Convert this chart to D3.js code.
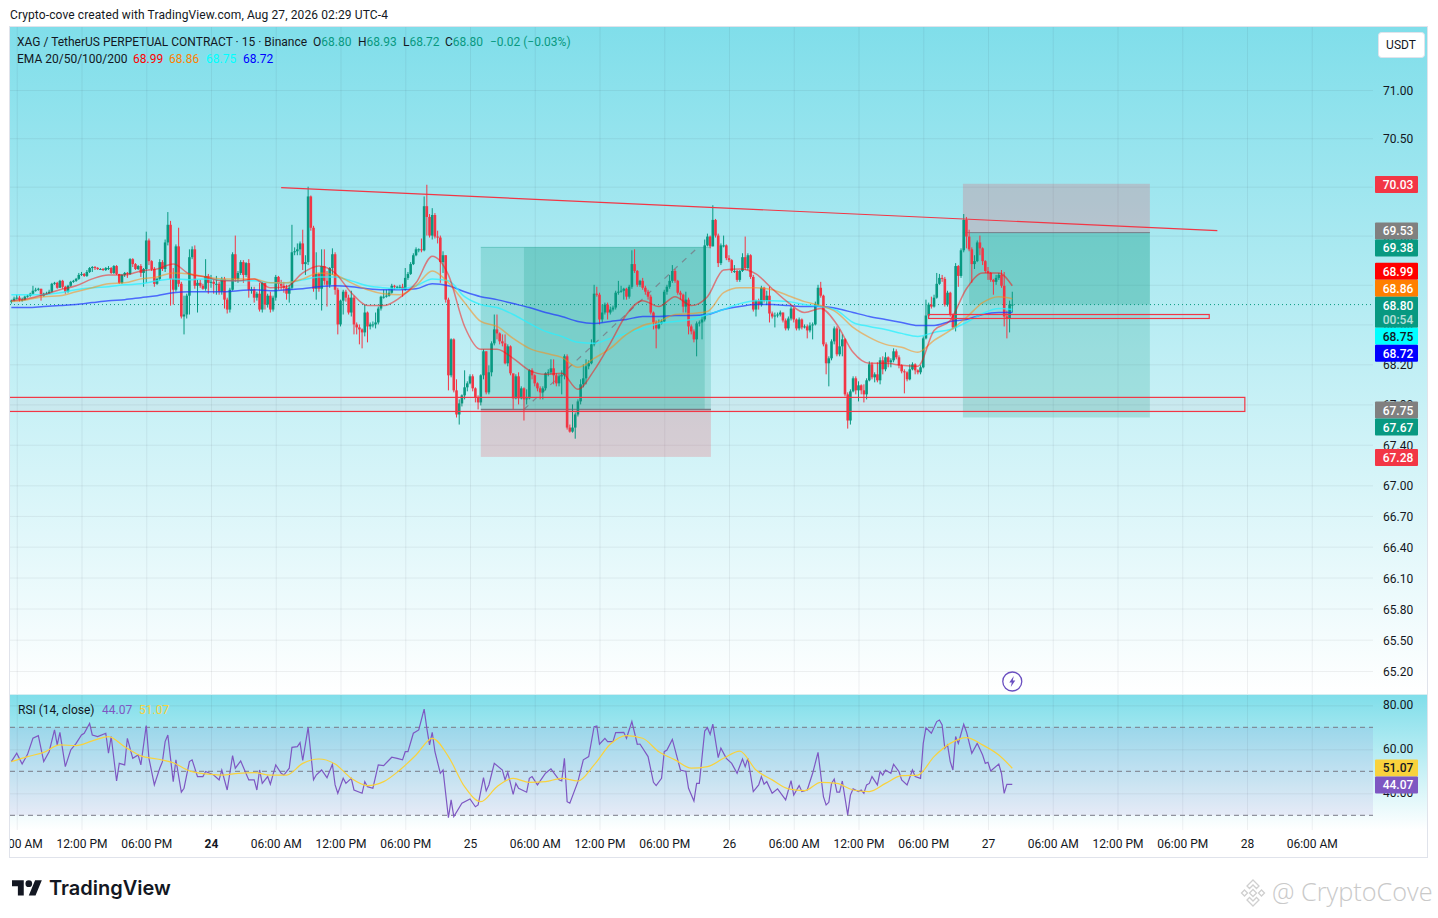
<!DOCTYPE html>
<html lang="en">
<head>
<meta charset="UTF-8">
<title>XAG / TetherUS 15</title>
<style>
  html, body { margin: 0; padding: 0; background: #fff; }
  svg { display: block; }
  text { font-family: Roboto, sans-serif; font-size: 12px; fill: #131722; }
  .domain { display: none; }
</style>
</head>
<body>
<svg id="svg" width="1438" height="918"></svg>
<script src="https://d3js.org/d3.v7.min.js"></script>
<script>
// 15 minute bars, one per index, first open is 68.83 and every other open is the previous close
const closes = [
  68.84,68.86,68.87,68.85,68.85,68.88,68.89,68.91,68.94,68.95,
  68.96,68.89,68.91,68.91,68.93,69.01,69.02,68.97,69.04,68.98,
  68.93,68.99,69.03,69.04,69.06,69.10,69.11,69.09,69.13,69.17,
  69.18,69.17,69.16,69.16,69.15,69.17,69.17,69.12,69.19,69.11,
  69.02,69.10,69.12,69.11,69.26,69.21,69.16,69.19,69.12,69.16,
  69.45,69.24,69.16,69.01,69.06,69.23,69.16,69.43,69.61,69.06,
  68.95,69.39,69.01,68.68,68.70,68.89,69.28,69.36,68.99,69.02,
  68.99,68.96,69.09,69.02,69.03,69.01,69.01,68.93,69.06,68.85,
  68.75,68.95,69.31,69.06,69.12,69.23,69.10,69.22,68.95,68.95,
  68.87,68.91,68.75,69.02,68.80,68.89,68.75,68.87,69.08,69.01,
  68.99,68.97,68.91,68.97,69.33,69.34,69.36,69.42,69.21,69.23,
  69.90,69.58,68.96,69.11,68.96,69.19,69.04,69.00,69.17,69.31,
  68.95,68.60,68.84,68.93,68.87,68.72,68.87,68.60,68.57,68.55,
  68.52,68.72,68.58,68.60,68.60,68.62,68.76,68.88,68.88,68.89,
  68.92,68.99,68.98,68.98,68.98,68.95,69.07,69.11,69.21,69.30,
  69.36,69.36,69.35,69.80,69.69,69.50,69.71,69.49,69.48,69.23,
  69.30,68.85,68.09,68.45,67.94,67.70,67.81,67.89,67.97,68.01,
  68.08,67.96,67.87,67.82,68.09,68.33,67.92,68.12,68.41,68.55,
  68.51,68.43,68.41,68.21,68.38,68.11,67.86,68.08,67.86,67.96,
  67.85,67.86,68.14,68.09,68.01,67.96,67.92,67.96,68.11,68.12,
  68.16,68.09,68.01,68.08,68.09,68.28,67.57,67.53,67.57,67.70,
  67.83,68.00,68.06,68.18,68.21,68.40,68.91,68.90,68.65,68.72,
  68.80,68.72,68.75,68.77,68.92,68.93,68.94,68.96,68.88,68.98,
  69.21,69.14,69.00,69.04,68.97,68.93,68.88,68.72,68.62,68.56,
  68.61,68.63,68.93,68.98,69.04,69.14,69.04,68.92,68.90,68.78,
  68.85,68.58,68.53,68.45,68.61,68.62,68.65,69.40,69.49,69.39,
  69.66,69.50,69.22,69.40,69.40,69.27,69.25,69.14,69.14,69.05,
  69.14,69.28,69.17,69.30,69.08,68.75,68.84,68.80,68.97,68.84,
  68.89,68.71,68.68,68.69,68.70,68.72,68.64,68.56,68.66,68.76,
  68.65,68.56,68.65,68.57,68.58,68.54,68.59,68.60,68.80,68.97,
  68.89,68.40,68.21,68.26,68.43,68.56,68.30,68.38,68.45,67.90,
  67.64,67.93,68.06,67.94,67.99,67.94,67.90,68.04,68.20,68.07,
  68.10,68.04,68.24,68.15,68.27,68.22,68.24,68.33,68.27,68.19,
  68.13,68.12,68.05,68.15,68.20,68.14,68.12,68.17,68.46,68.69,
  68.80,68.78,68.87,69.01,69.07,69.06,68.80,68.92,68.70,68.57,
  69.19,69.09,69.35,69.66,69.49,69.36,69.21,69.24,69.43,69.37,
  69.24,69.14,69.12,69.05,69.03,69.07,69.10,68.99,68.68,68.66,
  68.80,68.80
]
const highs = [
  68.85,68.88,68.90,68.89,68.87,68.89,68.90,68.92,68.99,68.97,
  68.97,68.96,68.92,68.93,68.95,69.02,69.03,69.03,69.05,69.05,
  68.99,69.00,69.04,69.05,69.07,69.12,69.13,69.12,69.15,69.18,
  69.19,69.19,69.18,69.17,69.17,69.18,69.19,69.18,69.20,69.20,
  69.11,69.11,69.13,69.13,69.27,69.27,69.22,69.20,69.21,69.17,
  69.54,69.47,69.25,69.18,69.07,69.26,69.25,69.46,69.74,69.65,
  69.17,69.41,69.58,69.03,68.89,68.91,69.36,69.39,69.40,69.05,
  69.05,69.01,69.26,69.11,69.10,69.05,69.09,69.03,69.08,69.08,
  68.87,68.97,69.33,69.50,69.14,69.25,69.25,69.23,69.26,68.98,
  68.98,68.93,69.02,69.03,69.01,68.91,68.93,68.89,69.10,69.09,
  69.05,69.03,69.00,69.00,69.61,69.38,69.42,69.44,69.56,69.30,
  70.00,69.91,69.60,69.33,69.12,69.36,69.36,69.14,69.18,69.37,
  69.33,68.97,68.85,68.95,68.95,68.90,68.94,68.89,68.62,68.60,
  68.56,68.80,68.73,68.62,68.63,68.72,68.78,68.89,68.95,68.95,
  68.96,69.01,69.00,68.99,69.00,69.01,69.17,69.13,69.23,69.32,
  69.38,69.37,69.47,69.90,70.02,69.72,69.78,69.73,69.55,69.50,
  69.34,69.30,68.87,68.46,68.46,68.05,67.85,67.90,68.14,68.03,
  68.10,68.10,67.97,67.89,68.10,68.35,68.33,68.19,68.43,68.70,
  68.70,68.52,68.50,68.50,68.40,68.39,68.05,68.10,68.12,67.98,
  67.97,67.95,68.15,68.16,68.10,68.02,67.98,67.98,68.12,68.15,
  68.25,68.25,68.11,68.10,68.14,68.30,68.30,67.60,67.80,67.72,
  67.85,68.05,68.20,68.25,68.24,68.45,69.00,68.98,68.92,68.80,
  68.82,68.82,68.78,68.79,68.94,69.04,68.99,68.97,68.97,69.00,
  69.35,69.36,69.15,69.05,69.07,68.99,68.95,68.90,68.73,68.64,
  68.65,68.65,68.95,69.00,69.10,69.20,69.16,69.05,68.94,68.91,
  68.93,68.87,68.60,68.55,68.63,68.64,68.70,69.46,69.52,69.50,
  69.81,69.67,69.52,69.42,69.50,69.41,69.30,69.26,69.20,69.15,
  69.15,69.32,69.49,69.32,69.31,69.10,68.85,68.86,68.99,68.98,
  68.94,68.98,68.73,68.72,68.72,68.74,68.72,68.66,68.68,68.78,
  68.77,68.66,68.67,68.66,68.60,68.60,68.62,68.62,68.83,69.00,
  69.03,68.90,68.42,68.28,68.45,68.58,68.58,68.55,68.50,68.46,
  67.92,67.95,68.08,68.08,68.03,68.00,68.00,68.06,68.23,68.22,
  68.12,68.22,68.27,68.28,68.32,68.28,68.26,68.36,68.35,68.29,
  68.20,68.15,68.13,68.20,68.22,68.21,68.15,68.19,68.48,68.85,
  68.82,68.88,68.90,69.12,69.11,69.10,69.08,68.94,68.93,68.71,
  69.22,69.20,69.37,69.72,69.69,69.56,69.38,69.30,69.45,69.50,
  69.38,69.25,69.18,69.13,69.06,69.10,69.12,69.15,69.13,68.74,
  68.84,68.93
]
const lows = [
  68.81,68.83,68.85,68.83,68.83,68.84,68.87,68.88,68.90,68.93,
  68.94,68.84,68.88,68.90,68.91,68.92,69.00,68.96,68.97,68.96,
  68.91,68.92,68.98,69.02,69.03,69.05,69.09,69.08,69.08,69.12,
  69.13,69.15,69.15,69.15,69.14,69.14,69.15,69.11,69.11,69.10,
  69.01,69.01,69.08,69.07,69.10,69.18,69.15,69.15,69.08,68.98,
  69.02,69.20,69.14,68.98,69.00,69.04,69.14,69.13,69.40,68.79,
  68.80,68.93,68.98,68.66,68.50,68.66,68.70,69.26,68.96,68.72,
  68.97,68.95,68.94,68.91,68.97,68.91,68.90,68.90,68.90,68.76,
  68.71,68.72,68.94,69.03,69.02,69.10,69.02,69.08,68.87,68.91,
  68.82,68.84,68.73,68.72,68.75,68.77,68.72,68.73,68.84,68.95,
  68.95,68.92,68.85,68.82,68.95,69.30,69.30,69.30,69.15,69.10,
  69.20,69.55,68.93,68.85,68.93,68.74,69.00,68.78,68.97,69.10,
  68.90,68.50,68.58,68.70,68.83,68.70,68.68,68.50,68.50,68.40,
  68.36,68.48,68.42,68.55,68.57,68.56,68.60,68.74,68.86,68.87,
  68.88,68.91,68.95,68.96,68.96,68.88,68.94,69.05,69.10,69.20,
  69.29,69.33,69.33,69.34,69.50,69.48,69.46,69.47,69.42,69.02,
  69.12,68.82,67.94,68.07,67.92,67.67,67.60,67.78,67.85,67.93,
  68.00,67.93,67.82,67.75,67.79,68.05,67.90,67.90,68.08,68.39,
  68.45,68.40,68.38,68.20,68.18,68.09,67.75,67.85,67.80,67.85,
  67.64,67.80,67.85,68.05,67.98,67.93,67.85,67.85,67.94,68.08,
  68.10,68.00,67.98,67.98,67.90,68.05,67.55,67.52,67.52,67.46,
  67.68,67.80,67.97,68.00,68.15,68.20,68.38,68.88,68.60,68.62,
  68.70,68.65,68.70,68.73,68.75,68.90,68.92,68.85,68.85,68.86,
  68.96,69.12,68.98,68.98,68.95,68.90,68.85,68.70,68.55,68.36,
  68.55,68.60,68.62,68.90,68.96,69.02,69.02,68.90,68.85,68.72,
  68.72,68.50,68.50,68.42,68.28,68.58,68.45,68.63,69.39,69.37,
  69.39,69.48,69.18,69.20,69.38,69.25,69.23,69.12,69.12,69.03,
  69.03,69.13,69.15,69.15,69.06,68.73,68.68,68.75,68.78,68.82,
  68.80,68.62,68.66,68.57,68.67,68.68,68.62,68.54,68.54,68.64,
  68.62,68.54,68.54,68.55,68.56,68.46,68.52,68.45,68.59,68.78,
  68.87,68.38,68.10,67.98,68.24,68.40,68.28,68.28,68.28,67.88,
  67.56,67.60,67.92,67.90,67.83,67.90,67.82,67.85,68.03,68.05,
  68.02,68.02,68.00,68.10,68.13,68.17,68.17,68.22,68.25,68.16,
  68.11,67.91,68.03,68.04,68.14,68.10,68.10,68.10,68.16,68.45,
  68.68,68.76,68.77,68.86,69.00,69.03,68.78,68.78,68.68,68.55,
  68.53,68.98,69.07,69.33,69.37,69.34,69.02,69.16,69.23,69.30,
  69.20,69.12,69.05,69.03,68.90,69.00,69.05,68.97,68.58,68.46,
  68.52,68.72
]
const firstOpen = 68.83

// EMA lines, plus the last bar
const ema20 = [68.84,68.86,68.90,68.95,68.99,69.06,69.10,69.10,69.14,69.16,69.21,69.11,69.08,69.04,69.04,69.06,68.97,68.98,69.12,69.19,69.12,68.92,68.79,68.79,68.87,69.02,69.29,69.10,68.58,68.35,68.35,68.26,68.14,68.10,68.11,67.95,68.14,68.41,68.70,68.84,68.78,68.88,68.79,68.88,69.15,69.16,69.11,68.96,68.82,68.72,68.76,68.60,68.32,68.21,68.21,68.19,68.18,68.54,68.64,68.96,69.12,69.12,68.99]
const ema50 = [68.83,68.85,68.88,68.89,68.93,68.97,69.01,69.02,69.06,69.08,69.12,69.11,69.08,69.06,69.06,69.06,69.02,69.02,69.06,69.12,69.10,69.02,68.95,68.91,68.90,68.99,69.14,69.02,68.82,68.63,68.58,68.46,68.36,68.31,68.27,68.17,68.26,68.36,68.50,68.59,68.63,68.70,68.71,68.73,68.92,68.97,68.97,68.95,68.89,68.83,68.79,68.72,68.57,68.47,68.40,68.37,68.32,68.44,68.54,68.67,68.82,68.88,68.86]
const ema100 = [68.90,68.90,68.90,68.92,68.95,68.97,68.98,69.00,69.01,69.04,69.06,69.05,69.06,69.05,69.04,69.04,69.02,69.02,69.05,69.08,69.08,69.04,68.99,68.97,68.96,68.99,69.06,69.04,68.88,68.80,68.77,68.70,68.61,68.53,68.48,68.42,68.41,68.46,68.51,68.56,68.61,68.63,68.65,68.70,68.75,68.81,68.84,68.84,68.83,68.80,68.78,68.74,68.62,68.58,68.55,68.51,68.48,68.52,68.55,68.62,68.71,68.76,68.75]
const ema200 = [68.77,68.77,68.78,68.79,68.80,68.82,68.84,68.85,68.87,68.89,68.92,68.93,68.93,68.93,68.94,68.95,68.94,68.95,68.96,68.98,68.99,68.98,68.96,68.95,68.95,68.96,69.01,68.99,68.93,68.88,68.85,68.81,68.77,68.72,68.68,68.63,68.61,68.63,68.65,68.68,68.68,68.69,68.69,68.70,68.75,68.78,68.80,68.80,68.79,68.78,68.78,68.76,68.72,68.68,68.65,68.62,68.59,68.59,68.63,68.65,68.70,68.72,68.72]
const emaBars = d3.range(0, 372, 6).concat([371])

const rsiBars = [0,2,4,6,8,10,12,14,16,17,18,20,22,24,26,27,29,30,32,35,36,37,39,40,42,43,45,47,48,50,51,53,55,56,57,58,60,61,63,64,66,67,69,71,72,75,77,78,80,82,83,85,88,90,91,92,93,95,96,98,100,101,103,104,106,107,108,110,112,113,115,117,119,120,121,123,124,126,127,130,131,132,134,136,138,141,143,145,146,147,149,151,153,154,155,156,157,159,160,162,163,164,167,170,172,173,175,176,177,179,182,183,184,186,187,188,191,192,193,195,198,200,203,204,205,206,207,210,212,214,216,217,218,220,221,223,224,227,228,230,232,233,236,238,239,241,242,243,245,248,250,251,253,254,255,257,258,259,260,262,263,265,267,269,271,272,273,275,277,278,279,280,282,284,287,289,290,292,293,295,297,299,301,302,303,304,305,306,307,308,310,311,312,314,315,316,317,318,319,321,322,323,324,326,327,329,330,332,334,335,337,338,339,341,343,344,345,346,347,348,349,350,351,353,354,356,358,360,361,362,363,366,367,368,369,371]
const rsiVals = [54.4,58.2,53.3,57.7,65.0,66.2,54.4,58.9,68.8,62.0,67.7,52.1,59.7,62.7,66.5,67.3,71.8,66.5,65.8,67.3,58.2,65.8,45.6,53.6,52.9,65.0,55.9,57.4,52.9,70.8,55.9,43.8,51.4,54.4,63.5,66.5,45.3,55.2,40.5,42.3,54.4,55.2,47.6,47.6,49.9,48.3,46.1,50.6,41.5,57.1,51.4,54.7,46.1,46.1,41.5,50.6,44.5,47.6,44.1,52.9,49.1,48.3,51.4,60.9,61.2,63.0,54.9,70.0,46.1,48.3,50.6,47.1,53.2,43.8,40.0,46.8,44.5,46.8,41.5,40.0,45.3,43.0,42.3,52.9,52.6,56.4,55.9,55.2,58.9,58.9,67.3,68.8,78.3,69.5,62.0,67.7,58.9,49.1,50.6,28.9,37.0,29.4,35.5,37.4,33.9,34.7,47.1,41.1,43.8,53.6,50.6,46.1,49.5,39.5,44.5,42.3,40.5,46.8,47.6,43.8,49.1,51.1,46.1,45.6,55.9,36.2,35.5,45.3,55.2,56.7,70.3,70.6,62.3,65.0,63.5,63.5,67.6,67.7,65.0,72.6,62.3,62.4,56.7,45.0,43.5,46.8,58.9,59.7,64.5,50.6,49.9,42.3,36.5,44.5,44.5,68.3,69.8,66.8,71.4,56.2,60.5,55.9,53.6,49.1,55.6,52.1,55.9,40.8,43.8,47.6,44.1,45.3,40.0,42.0,37.0,45.8,39.2,43.5,40.8,41.5,49.1,58.6,38.5,34.7,35.9,44.5,46.5,40.5,40.5,45.6,30.2,39.2,42.0,40.8,41.5,40.0,43.8,44.5,47.6,43.8,49.9,48.3,50.6,49.1,53.2,49.9,46.1,43.8,50.6,47.6,46.8,62.7,69.8,67.3,72.6,73.3,71.1,60.5,62.0,54.4,50.6,65.8,62.7,71.4,68.0,58.2,62.7,57.4,53.6,54.1,50.2,53.3,49.1,40.0,44.1,44.1]
const rsiMa = [54.4,56.7,58.6,62.0,61.7,63.8,65.8,61.2,57.0,55.6,53.9,50.2,48.8,48.3,49.1,49.4,48.3,48.3,53.6,55.6,53.3,46.8,43.5,45.3,50.6,57.4,65.0,56.7,43.0,36.2,43.0,46.8,45.0,45.3,46.8,45.6,52.9,62.3,66.2,65.0,58.9,55.2,51.4,52.1,55.9,59.2,50.6,46.1,42.0,41.2,45.0,44.5,41.5,40.8,44.5,48.0,48.3,56.7,62.7,65.3,62.0,57.4,51.4]

// axis labels
const priceTicks = [71, 70.5, 70, 69.5, 69, 68.6, 68.2, 67.8, 67.4, 67, 66.7, 66.4, 66.1, 65.8, 65.5, 65.2]
const rsiTicks = [80, 60, 40]
const rsiLevels = [70, 50, 30]
const timeTicks = d3.utcHour.range(new Date(Date.UTC(2026, 7, 23, 6)), new Date(Date.UTC(2026, 7, 28, 7)), 6)

// drawings on the chart, bars are indexes into the series and run on past its end
const trendBars = [100, 447]
const trendPrices = [69.99, 69.55]
const wideZone = { bars: [-2, 457.2], prices: [67.87, 67.73] }
const thinZone = { bars: [340, 444], prices: [68.70, 68.66] }
const longBox = { bars: [174, 190, 257, 259.3], target: 69.38, entry: 67.75, stop: 67.28 }
const shortBox = { bars: [352.7, 355, 422], stop: 70.03, entry: 69.53, target: 67.67, current: 68.80 }
const pathBars = [190, 254.5]
const pathPrices = [67.75, 69.38]

const priceTags = [
    { v: 70.03, bg: "#f23645", fg: "#fff" },
    { v: 69.53, bg: "#808080", fg: "#fff" },
    { v: 69.38, bg: "#089981", fg: "#fff" },
    { v: 68.99, bg: "#ff0000", fg: "#fff" },
    { v: 68.86, bg: "#ff7f00", fg: "#fff" },
    { v: 68.80, bg: "#089981", fg: "#fff", sub: "00:54" },
    { v: 68.75, bg: "#00ffff", fg: "#131722" },
    { v: 68.72, bg: "#0000ff", fg: "#fff" },
    { v: 67.75, bg: "#808080", fg: "#fff" },
    { v: 67.67, bg: "#089981", fg: "#fff" },
    { v: 67.28, bg: "#f23645", fg: "#fff" }
]
const rsiTags = [
    { v: 51.07, bg: "#f9d23c", fg: "#131722" },
    { v: 44.07, bg: "#7e57c2", fg: "#fff" }
]

const upColor = "#089981", downColor = "#f23645"
const frame = { left: 10, right: 1427, top: 27, bottom: 857, plotRight: 1373, mainBottom: 694, rsiTop: 695, rsiBottom: 830 }

const svg = d3.select("#svg")
const defs = svg.append("defs")

function gradient(id, y1, y2) {
    const g = defs.append("linearGradient").attr("id", id).attr("gradientUnits", "userSpaceOnUse")
        .attr("x1", 0).attr("x2", 0).attr("y1", y1).attr("y2", y2)
    g.append("stop").attr("offset", 0).attr("stop-color", "#80deea")
    g.append("stop").attr("offset", 1).attr("stop-color", "#ffffff")
}
gradient("bgMain", frame.top, frame.mainBottom)
gradient("bgRsi", frame.rsiTop, frame.rsiBottom)

defs.append("clipPath").attr("id", "plotClip").append("rect")
    .attr("x", frame.left).attr("y", frame.top).attr("width", frame.right - frame.left).attr("height", frame.bottom - frame.top)

// scales
const x = d3.scaleUtc()
    .domain([new Date(Date.UTC(2026, 7, 24)), new Date(Date.UTC(2026, 7, 27))])
    .range([211, 988])
const firstBar = Date.UTC(2026, 7, 23, 5, 30)
const barX = i => x(new Date(firstBar + i * 15 * 60000))
const y = d3.scaleLog().domain([65.2, 71]).range([671, 90])
const yRsi = d3.scaleLinear().domain([30, 70]).range([815.3, 727.3])

// backgrounds
svg.append("rect").attr("x", frame.left).attr("y", frame.top).attr("width", frame.right - frame.left)
    .attr("height", frame.mainBottom - frame.top).attr("fill", "url(#bgMain)")
svg.append("rect").attr("x", frame.left).attr("y", frame.rsiTop).attr("width", frame.right - frame.left)
    .attr("height", frame.rsiBottom - frame.rsiTop).attr("fill", "url(#bgRsi)")

const plot = svg.append("g").attr("clip-path", "url(#plotClip)")
const gridColor = "rgba(42,46,57,0.07)"

// grid, from the axes themselves
plot.append("g").attr("class", "grid").attr("transform", `translate(0,${frame.mainBottom})`)
    .call(d3.axisBottom(x).tickValues(timeTicks).tickSize(frame.top - frame.mainBottom).tickFormat(""))
    .selectAll("line").attr("stroke", gridColor)
plot.append("g").attr("class", "grid").attr("transform", `translate(0,${frame.rsiBottom})`)
    .call(d3.axisBottom(x).tickValues(timeTicks).tickSize(frame.rsiTop - frame.rsiBottom).tickFormat(""))
    .selectAll("line").attr("stroke", gridColor)
plot.append("g").attr("class", "grid").attr("transform", `translate(${frame.plotRight},0)`)
    .call(d3.axisLeft(y).tickValues(priceTicks).tickSize(frame.plotRight - frame.left).tickFormat(""))
    .selectAll("line").attr("stroke", gridColor)
plot.append("g").attr("class", "grid").attr("transform", `translate(${frame.plotRight},0)`)
    .call(d3.axisLeft(yRsi).tickValues(rsiTicks).tickSize(frame.plotRight - frame.left).tickFormat(""))
    .selectAll("line").attr("stroke", gridColor)

// position boxes
function box(i0, i1, p0, p1, fill) {
    return plot.append("rect")
        .attr("x", barX(i0)).attr("width", barX(i1) - barX(i0))
        .attr("y", y(p0)).attr("height", y(p1) - y(p0))
        .attr("fill", fill)
}
function hLine(i0, i1, p, stroke, w) {
    plot.append("line").attr("x1", barX(i0)).attr("x2", barX(i1))
        .attr("y1", y(p)).attr("y2", y(p)).attr("stroke", stroke).attr("stroke-width", w)
}
const targetFill = "rgba(8,153,129,0.2)", stopFill = "rgba(242,54,69,0.2)"

box(longBox.bars[0], longBox.bars[3], longBox.target, longBox.entry, targetFill)
box(longBox.bars[0], longBox.bars[3], longBox.entry, longBox.stop, stopFill)
box(longBox.bars[1], longBox.bars[2], longBox.target, longBox.entry, targetFill)
hLine(longBox.bars[0], longBox.bars[3], longBox.entry, "#787b86", 1.5)
hLine(longBox.bars[0], longBox.bars[3], longBox.target, "rgba(8,153,129,0.35)", 1)

box(shortBox.bars[0], shortBox.bars[2], shortBox.stop, shortBox.entry, stopFill)
box(shortBox.bars[0], shortBox.bars[2], shortBox.entry, shortBox.target, targetFill)
box(shortBox.bars[1], shortBox.bars[2], shortBox.entry, shortBox.current, targetFill)
hLine(shortBox.bars[0], shortBox.bars[2], shortBox.entry, "#787b86", 1)

plot.append("line")
    .attr("x1", barX(pathBars[0])).attr("x2", barX(pathBars[1]))
    .attr("y1", y(pathPrices[0])).attr("y2", y(pathPrices[1]))
    .attr("stroke", "#787b86").attr("stroke-width", 1.2).attr("stroke-dasharray", "6 6").attr("opacity", 0.8)

// rsi band and levels
plot.append("rect").attr("x", frame.left).attr("width", frame.plotRight - frame.left)
    .attr("y", yRsi(70)).attr("height", yRsi(30) - yRsi(70)).attr("fill", "rgba(126,87,194,0.1)")
plot.selectAll(".level").data(rsiLevels).join("line").attr("class", "level")
    .attr("x1", frame.left).attr("x2", frame.plotRight)
    .attr("y1", d => yRsi(d)).attr("y2", d => yRsi(d))
    .attr("stroke", "#787b86").attr("stroke-dasharray", "5 4")

// last price dotted line
plot.append("line").attr("x1", frame.left).attr("x2", frame.plotRight)
    .attr("y1", y(closes[closes.length - 1])).attr("y2", y(closes[closes.length - 1]))
    .attr("stroke", upColor).attr("stroke-dasharray", "1 3")

// candles
const bars = closes.map((c, i) => ({ i, o: i ? closes[i - 1] : firstOpen, c, h: highs[i], l: lows[i] }))
const candle = plot.append("g").selectAll("g").data(bars).join("g")
    .attr("fill", d => d.c >= d.o ? upColor : downColor)
candle.append("rect").attr("class", "wick")
    .attr("x", d => barX(d.i) - 0.5).attr("width", 1)
    .attr("y", d => y(d.h)).attr("height", d => y(d.l) - y(d.h))
candle.append("rect").attr("class", "body")
    .attr("x", d => barX(d.i) - 1.3).attr("width", 2.6)
    .attr("y", d => y(Math.max(d.o, d.c))).attr("height", d => Math.max(1, Math.abs(y(d.o) - y(d.c))))

// ema lines
const emaLine = d3.line().x((d, i) => barX(emaBars[i])).y(d => y(d)).curve(d3.curveMonotoneX)
const emaSeries = [
    { v: ema200, color: "rgba(30,50,255,0.7)" },
    { v: ema100, color: "rgba(40,240,255,0.75)" },
    { v: ema50, color: "rgba(255,140,20,0.55)" },
    { v: ema20, color: "rgba(255,10,10,0.5)" }
]
plot.selectAll(".ema").data(emaSeries).join("path").attr("class", "ema")
    .attr("d", d => emaLine(d.v)).attr("fill", "none").attr("stroke", d => d.color).attr("stroke-width", 1.5)

// zones and trend line on top of the price
function zone(z) {
    box(z.bars[0], z.bars[1], z.prices[0], z.prices[1], "rgba(242,54,69,0.04)")
        .attr("stroke", downColor).attr("stroke-width", 1.2)
}
zone(wideZone)
zone(thinZone)
plot.append("line")
    .attr("x1", barX(trendBars[0])).attr("x2", barX(trendBars[1]))
    .attr("y1", y(trendPrices[0])).attr("y2", y(trendPrices[1]))
    .attr("stroke", downColor).attr("stroke-width", 1.2)

// rsi lines
plot.append("path").datum(rsiVals).attr("fill", "none").attr("stroke", "#7e57c2").attr("stroke-width", 1.2)
    .attr("d", d3.line().x((d, i) => barX(rsiBars[i])).y(d => yRsi(d)))
plot.append("path").datum(rsiMa).attr("fill", "none").attr("stroke", "#f9d23c").attr("stroke-width", 1.2)
    .attr("d", d3.line().x((d, i) => barX(emaBars[i])).y(d => yRsi(d)).curve(d3.curveMonotoneX))

// time axis
const timeFormat = d => {
    if (d.getUTCHours() === 0) return d3.utcFormat("%-d")(d)
    return d3.utcFormat("%I:%M %p")(d)
}
const xAxis = plot.append("g").attr("transform", `translate(0,${frame.rsiBottom})`)
    .call(d3.axisBottom(x).tickValues(timeTicks).tickSize(0).tickPadding(9).tickFormat(timeFormat))
xAxis.attr("font-family", null).attr("font-size", null)
xAxis.selectAll("text").style("fill", "#131722")
    .style("font-weight", d => +d === Date.UTC(2026, 7, 24) ? 700 : 400)

// price axes
function rightAxis(scale, ticks, dy) {
    const g = svg.append("g").attr("transform", `translate(1383,${dy})`)
        .call(d3.axisRight(scale).tickValues(ticks).tickSize(0).tickPadding(0).tickFormat(d3.format(".2f")))
    g.attr("font-family", null).attr("font-size", null)
    g.selectAll("text").style("fill", "#131722")
}
rightAxis(y, priceTicks, 0.7)
rightAxis(yRsi, rsiTicks, -0.6)

// value tags, pushed apart from the last price the way the chart stacks them
function placeTags(tags, scale, anchor, dy) {
    const h = 17
    const rows = tags.map(t => ({ ...t, cy: scale(t.v) + dy }))
    const a = rows.findIndex(t => t.v === anchor)
    let top = rows[a].cy - h / 2
    for (let i = a - 1; i >= 0; i--) {
        rows[i].cy = Math.min(rows[i].cy, top - h / 2)
        top = rows[i].cy - h / 2
    }
    let bottom = rows[a].cy + h / 2 + (rows[a].sub ? 14 : 0)
    for (let i = a + 1; i < rows.length; i++) {
        rows[i].cy = Math.max(rows[i].cy, bottom + h / 2)
        bottom = rows[i].cy + h / 2
    }
    const g = svg.append("g").selectAll("g").data(rows).join("g")
        .attr("transform", d => `translate(1375,${d.cy})`)
    g.append("rect").attr("x", 0).attr("y", -h / 2).attr("width", 43)
        .attr("height", d => d.sub ? h + 14 : h).attr("rx", 1).attr("fill", d => d.bg)
    g.append("text").attr("x", 23).attr("y", 4.5).attr("text-anchor", "middle")
        .style("fill", d => d.fg).style("font-weight", 500).text(d => d.v.toFixed(2))
    g.filter(d => d.sub).append("text").attr("x", 23).attr("y", 18.5).attr("text-anchor", "middle")
        .style("fill", "#fff").style("opacity", 0.7).style("font-weight", 500).text(d => d.sub)
}
placeTags(priceTags, y, 68.80, 0.6)
placeTags(rsiTags, yRsi, 51.07, -1)

// frame
svg.append("rect").attr("x", frame.left - 0.5).attr("y", frame.top - 0.5)
    .attr("width", frame.right - frame.left + 1).attr("height", frame.bottom - frame.top + 1)
    .attr("fill", "none").attr("stroke", "#e0e3eb")
svg.append("line").attr("x1", frame.left).attr("x2", frame.right).attr("y1", frame.mainBottom + 0.5).attr("y2", frame.mainBottom + 0.5)
    .attr("stroke", "#d6eef2")

// header texts
function label(px, py, str, color) {
    return svg.append("text").attr("x", px).attr("y", py).style("fill", color || "#131722").text(str)
}
label(10, 19, "Crypto-cove created with TradingView.com, Aug 27, 2026 02:29 UTC-4").style("letter-spacing", "0.11px")
label(17, 46, "XAG / TetherUS PERPETUAL CONTRACT · 15 · Binance")
const ohlc = [[313, "O", "68.80"], [358, "H", "68.93"], [403, "L", "68.72"], [445, "C", "68.80"]]
ohlc.forEach(d => {
    const t = label(d[0], 46, d[1])
    t.append("tspan").style("fill", upColor).text(d[2])
})
label(490, 46, "−0.02 (−0.03%)", upColor)
label(17, 63, "EMA 20/50/100/200")
label(133, 63, "68.99", "#ff0000")
label(169, 63, "68.86", "#ff7f00")
label(206, 63, "68.75", "#00ffff")
label(243, 63, "68.72", "#0000ff")
label(18, 714, "RSI (14, close)")
label(102, 714, "44.07", "#7e57c2")
label(139, 714, "51.07", "#f9d23c")

// unit button
svg.append("rect").attr("x", 1378.5).attr("y", 32.5).attr("width", 46).attr("height", 25).attr("rx", 3)
    .attr("fill", "#fff").attr("stroke", "#e0e3eb")
label(1401, 49, "USDT").attr("text-anchor", "middle")

// lightning marker under the last bar
const bolt = svg.append("g").attr("transform", `translate(${barX(371)},681.5)`)
bolt.append("circle").attr("r", 9.5).attr("fill", "rgba(255,255,255,0.6)").attr("stroke", "#6a4fc0").attr("stroke-width", 1.3)
bolt.append("path").attr("d", "M1.5 -5.5 L-3 1 L-0.5 1 L-1.5 5.5 L3 -1 L0.5 -1 Z").attr("fill", "#6a4fc0")

// logo
const logo = svg.append("g").attr("transform", "translate(12,877) scale(0.84)")
logo.append("path").attr("d", "M14 22H7V11H0V4h14v18zM28 22h-8l7.5-18h8L28 22z").attr("fill", "#131722")
logo.append("circle").attr("cx", 20).attr("cy", 8).attr("r", 4).attr("fill", "#131722")
label(49, 895, "TradingView").style("font-family", "Inter, sans-serif").style("font-size", "20px").style("font-weight", 600)

// watermark
const mark = svg.append("g").attr("transform", "translate(1253,893)").attr("fill", "none").attr("stroke", "#cfcfcf").attr("stroke-width", 1.3)
mark.append("path").attr("d", "M0 -13 L6 -7 L3.5 -4.5 L0 -8 L-3.5 -4.5 L-6 -7 Z")
mark.append("path").attr("d", "M0 13 L6 7 L3.5 4.5 L0 8 L-3.5 4.5 L-6 7 Z")
mark.append("path").attr("d", "M0 -3.5 L3.5 0 L0 3.5 L-3.5 0 Z")
mark.append("path").attr("d", "M-8.5 -3 L-5.5 0 L-8.5 3 L-11.5 0 Z")
mark.append("path").attr("d", "M8.5 -3 L5.5 0 L8.5 3 L11.5 0 Z")
label(1272, 901, "@ CryptoCove", "#c9c9c9").style("font-size", "25.3px").style("font-family", "'Open Sans', sans-serif").style("font-weight", 300)
</script>
</body>
</html>
